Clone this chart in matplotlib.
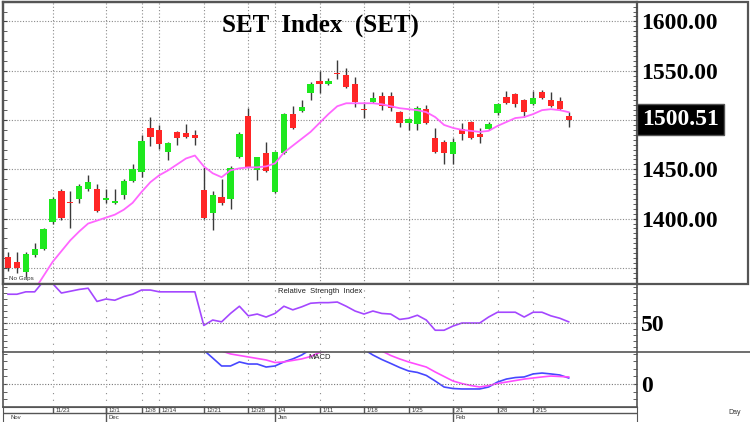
import matplotlib
matplotlib.use('Agg')
import matplotlib.pyplot as plt
import numpy as np
from matplotlib.ticker import MultipleLocator
from matplotlib.patches import Rectangle

# trading days, Nov 16 -> Feb 19
dates = ['11/16', '11/17', '11/18', '11/19', '11/20', '11/23', '11/24', '11/25', '11/26', '11/27', '11/30',
         '12/1', '12/2', '12/3', '12/4', '12/8', '12/9', '12/14', '12/15', '12/16', '12/17', '12/18',
         '12/21', '12/22', '12/23', '12/24', '12/25', '12/28', '12/29', '12/30',
         '1/4', '1/5', '1/6', '1/7', '1/8', '1/11', '1/12', '1/13', '1/14', '1/15',
         '1/18', '1/19', '1/20', '1/21', '1/22', '1/25', '1/26', '1/27', '1/28', '1/29',
         '2/1', '2/2', '2/3', '2/4', '2/5', '2/8', '2/9', '2/10', '2/11',
         '2/15', '2/16', '2/17', '2/18', '2/19']

opens = [1361, 1356, 1346, 1363, 1369, 1397, 1428, 1417, 1420, 1430, 1430, 1419, 1416, 1424, 1438, 1447,
         1492, 1490, 1468, 1488, 1487, 1485, 1429, 1406, 1422, 1420, 1463, 1504, 1449, 1467, 1427, 1467,
         1506, 1509, 1527, 1540, 1537, 1548, 1546, 1537, 1511, 1518, 1524, 1524, 1508, 1497, 1496, 1511,
         1482, 1478, 1466, 1491, 1498, 1486, 1491, 1507, 1523, 1526, 1520, 1516, 1528, 1520, 1519, 1504]
highs = [1366, 1366, 1366, 1375, 1391, 1422, 1430, 1428, 1435, 1444, 1435, 1430, 1430, 1440, 1455, 1485,
         1503, 1495, 1478, 1489, 1496, 1490, 1452, 1428, 1440, 1453, 1488, 1512, 1463, 1478, 1469, 1507,
         1514, 1520, 1539, 1550, 1543, 1561, 1553, 1544, 1518, 1528, 1528, 1528, 1509, 1502, 1514, 1515,
         1492, 1480, 1482, 1497, 1499, 1492, 1498, 1517, 1529, 1527, 1521, 1529, 1530, 1528, 1523, 1508]
lows = [1347, 1345, 1341, 1361, 1368, 1395, 1399, 1391, 1416, 1428, 1407, 1416, 1415, 1420, 1437, 1442,
        1474, 1471, 1459, 1475, 1482, 1475, 1400, 1388, 1414, 1410, 1461, 1451, 1439, 1447, 1426, 1466,
        1491, 1508, 1520, 1527, 1536, 1542, 1532, 1513, 1502, 1517, 1510, 1509, 1493, 1490, 1490, 1496,
        1467, 1455, 1455, 1480, 1481, 1477, 1490, 1505, 1516, 1513, 1503, 1515, 1521, 1513, 1510, 1493]
closes = [1350, 1350, 1364, 1369, 1389, 1420, 1401, 1416, 1433, 1437, 1408, 1421, 1418, 1438, 1450, 1479,
          1483, 1476, 1477, 1482, 1483, 1482, 1401, 1424, 1416, 1451, 1486, 1452, 1462, 1448, 1468, 1506,
          1492, 1513, 1537, 1537, 1540, 1547, 1534, 1518, 1510, 1522, 1514, 1512, 1497, 1501, 1512, 1497,
          1468, 1467, 1478, 1486, 1482, 1483, 1496, 1516, 1517, 1516, 1508, 1522, 1522, 1514, 1511, 1500.51]

ma = [np.nan, np.nan, np.nan, 1328, 1342, 1356, 1367, 1378, 1387, 1395, 1398, 1401, 1404, 1409, 1416, 1427,
      1437, 1444, 1449, 1455, 1461, 1464, 1453, 1446, 1442, 1449, 1451, 1452, 1452, 1453, 1456, 1467,
      1474, 1481, 1488, 1497, 1506, 1514, 1517, 1517, 1517, 1517, 1516, 1514, 1512, 1511, 1510, 1508,
      1503, 1495, 1492, 1490, 1489, 1488, 1489, 1494, 1498, 1502, 1503, 1506, 1510, 1511, 1510, 1508]

rsi = [74, 74, 76, 76, 85, 83, 75, 76.5, 78, 79, 68, 70, 69, 72, 74, 77.5,
       77.5, 76, 76, 76, 76, 76, 48, 52.5, 51, 58, 64, 56, 57.5, 55, 58, 64,
       61, 63.5, 66.5, 67, 67, 67.5, 64, 60, 57.5, 60, 58, 57.5, 53, 54, 56.5, 52.5,
       44, 44, 47.5, 50, 50, 50, 55, 59, 59, 59, 55, 59, 59, 56, 54, 51]

macd = [24, 25, 26, 27, 28, 30, 31, 32, 33, 34, 33, 32, 31, 31, 31, 32,
        33, 33, 32, 31, 30, 28, 22.5, 17.3, 12, 12, 14.7, 13.3, 13.3, 11.3, 12, 14.7,
        16.7, 19.3, 23, 25, 26, 27, 27, 26, 23, 19.3, 16.3, 13.7, 11, 8.7, 7.7, 5.7,
        2, -2, -3, -3.3, -3.3, -3.3, -2, 1.3, 3.3, 4.3, 4.7, 6.7, 7.3, 6.7, 6, 4]
signal = [24, 25, 26, 27, 28, 28, 29, 29, 30, 30, 30, 30, 30, 30, 30, 30,
          30, 30, 30, 29, 29, 28, 27, 25, 22, 20, 19, 18, 17, 16, 14.3, 14.7,
          15.7, 16.7, 18.3, 21, 22, 23, 24, 24, 24, 23, 22, 19, 16.7, 14.7, 13, 11.3,
          8, 5, 2, 0.3, -1, -2, -1, 0.3, 1.3, 2.3, 3.3, 4, 4.7, 5.3, 5, 4.7]

day_labels = ['11/23', '12/1', '12/8', '12/14', '12/21', '12/28', '1/4', '1/11', '1/18', '1/25', '2/1', '2/8', '2/15']
month_labels = ['Nov', 'Dec', 'Jan', 'Feb']
month_first = ['11/16', '12/1', '1/4', '2/1']
price_labels = [1400, 1450, 1550, 1600]

W, H = 750, 422
serif = 'Liberation Serif'
sans = 'Liberation Sans'
big = 17


def rect(x0, y0, x1, y1):
    return [x0 / W, 1 - y1 / H, (x1 - x0) / W, (y1 - y0) / H]


x = np.arange(len(dates))
o = np.array(opens)
c = np.array(closes)
up = c >= o
tick_idx = [dates.index(d) for d in day_labels]
month_idx = [dates.index(d) for d in month_first]

fig = plt.figure(figsize=(7.5, 4.22), dpi=100, facecolor='white')
ax1 = fig.add_axes(rect(3, 2, 637, 284))
ax2 = fig.add_axes(rect(3, 285, 637, 351), sharex=ax1)
ax3 = fig.add_axes(rect(3, 352, 637, 407), sharex=ax1)
strip = fig.add_axes(rect(3, 407, 637, 422), sharex=ax1)

ax1.set_xlim(-5 / 8.9, 629 / 8.9)

# candles
ax1.vlines(x, lows, highs, color='#3a3a3a', lw=1, zorder=2)
ax1.bar(x, np.maximum(np.abs(c - o), 0.8), bottom=np.minimum(o, c), width=0.7,
        color=np.where(up, '#1ee81e', '#ff2626'), zorder=3)
ax1.plot(x, ma, color='#ff66ff', lw=1.3, zorder=4)

ax1.set_ylim(1333.7, 1619.7)
ax1.set_yticks(range(1350, 1601, 50))
ax1.yaxis.set_minor_locator(MultipleLocator(10))
ax1.tick_params(axis='y', which='both', direction='in', left=True, right=False, labelleft=False, length=3,
                color='#444')
ax1.grid(axis='y', linestyle=(0, (1, 1.5)), color='#8a8a8a', lw=0.8)

axr = ax1.twinx()
axr.set_ylim(ax1.get_ylim())
axr.set_yticks(price_labels)
axr.set_yticklabels(['%.2f' % p for p in price_labels], fontfamily=serif, fontweight='bold', fontsize=big)
axr.yaxis.set_minor_locator(MultipleLocator(5))
axr.tick_params(axis='y', which='both', direction='in', length=3, pad=3, color='#444')
for s in axr.spines.values():
    s.set_visible(False)
ax1.text(1.0085, c[-1], '%.2f' % c[-1], transform=ax1.get_yaxis_transform(), color='white',
         fontfamily=serif, fontweight='bold', fontsize=big, va='center', ha='left',
         bbox=dict(boxstyle='square,pad=0.22', facecolor='black', edgecolor='#555'))
ax1.text(0.5, 0.918, 'SET  Index  (SET)', transform=ax1.transAxes, ha='center', va='center',
         fontfamily=serif, fontweight='bold', fontsize=18)
ax1.text(0.01, 0.01, 'No Gaps', transform=ax1.transAxes, fontfamily=sans, fontsize=4.5, color='#333',
         va='bottom')

# RSI
ax2.plot(x, rsi, color='#a447ff', lw=1.2)
ax2.set_ylim(26.7, 81.7)
ax2.axhline(50, linestyle=(0, (1, 1.5)), color='#777', lw=0.8)
ax2.set_yticks([50])
ax2.set_yticklabels(['50'], fontfamily=serif, fontweight='bold', fontsize=big)
ax2.yaxis.set_minor_locator(MultipleLocator(5))
ax2.tick_params(axis='y', which='both', direction='in', left=True, right=True, labelleft=False,
                labelright=True, length=3, pad=3, color='#444')
ax2.text(0.5, 0.9, 'Relative  Strength  Index', transform=ax2.transAxes, ha='center', va='center',
         fontfamily=sans, fontsize=5.5, color='#222')

# MACD
ax3.plot(x, macd, color='#4747ff', lw=1.2)
ax3.plot(x, signal, color='#ff4cff', lw=1.2)
ax3.set_ylim(-15.3, 21.3)
ax3.axhline(0, linestyle=(0, (1, 1.5)), color='#777', lw=0.8)
ax3.set_yticks([0])
ax3.set_yticklabels(['0'], fontfamily=serif, fontweight='bold', fontsize=big)
ax3.yaxis.set_minor_locator(MultipleLocator(5))
ax3.tick_params(axis='y', which='both', direction='in', left=True, right=True, labelleft=False,
                labelright=True, length=3, pad=3, color='#444')
ax3.text(0.5, 0.9, 'MACD', transform=ax3.transAxes, ha='center', va='center',
         fontfamily=sans, fontsize=5.5, color='#222')

for ax, ls in ((ax1, (0, (1, 2))), (ax2, (0, (1, 5))), (ax3, (0, (1, 5)))):
    ax.set_xticks(tick_idx)
    ax.tick_params(axis='x', bottom=False, labelbottom=False)
    ax.grid(axis='x', linestyle=ls, color='#8a8a8a', lw=0.8)
    for s in ax.spines.values():
        s.set_color('#555')
        s.set_linewidth(1.2)
ax2.spines['top'].set_visible(False)
ax2.spines['bottom'].set_visible(False)
for s in ax1.spines.values():
    s.set_linewidth(1.6)

# date strip
strip.set_ylim(0, 1)
strip.set_yticks([])
strip.tick_params(axis='x', bottom=False, labelbottom=False)
for s in strip.spines.values():
    s.set_color('#555')
strip.spines['bottom'].set_visible(False)
strip.axhline(0.57, color='#555', lw=1)
tx = strip.get_xaxis_transform()
strip.vlines(tick_idx, 0.57, 1, color='#555', lw=1, transform=tx)
strip.vlines(month_idx[1:], 0, 1, color='#555', lw=1, transform=tx)
for i, lab in zip(tick_idx, day_labels):
    strip.text(i + 0.3, 0.8, lab, transform=tx, fontfamily=sans, fontsize=4.3, va='center', color='#333')
for i, lab in zip(month_idx, month_labels):
    strip.text(i + 0.3, 0.27, lab, transform=tx, fontfamily=sans, fontsize=4.3, va='center', color='#333')

# outer frames on the right
over = fig.add_axes([0, 0, 1, 1], facecolor='none')
over.set_xlim(0, W)
over.set_ylim(H, 0)
over.axis('off')
over.add_patch(Rectangle((3, 2), 745, 282, fill=False, edgecolor='#555', lw=1.6))
over.plot([637, 750], [351.5, 351.5], color='#555', lw=1.2)
over.text(728, 413, 'Day', fontfamily=sans, fontsize=5, va='center', color='#333')

fig.savefig('out.png', dpi=100, facecolor='white')
